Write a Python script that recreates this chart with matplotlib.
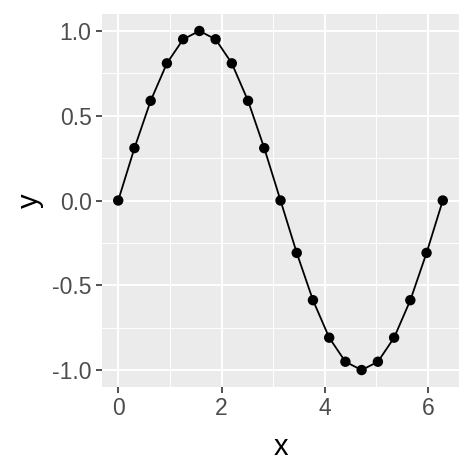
import matplotlib
matplotlib.use("Agg")
import matplotlib.pyplot as plt
from matplotlib.ticker import MultipleLocator

x = [0.000, 0.314, 0.628, 0.942, 1.257, 1.571, 1.885, 2.199, 2.513, 2.827, 3.142,
     3.456, 3.770, 4.084, 4.398, 4.712, 5.027, 5.341, 5.655, 5.969, 6.283]
y = [0.000, 0.309, 0.588, 0.809, 0.951, 1.000, 0.951, 0.809, 0.588, 0.309, 0.000,
     -0.309, -0.588, -0.809, -0.951, -1.000, -0.951, -0.809, -0.588, -0.309, 0.000]
xticks = [0, 2, 4, 6]
yticks = [-1.0, -0.5, 0.0, 0.5, 1.0]
ytick_labels = ["-1.0", "-0.5", "0.0", "0.5", "1.0"]

plt.rcParams['font.family'] = ['Liberation Sans', 'DejaVu Sans']
fig = plt.figure(figsize=(4.74, 4.74), dpi=100)
W = H = 474
ax = fig.add_axes([102 / W, (H - 387) / H, (459 - 102) / W, (387 - 14) / H])
ax.set_facecolor('#EBEBEB')
for s in ax.spines.values():
    s.set_visible(False)

xr = max(x) - min(x)
yr = max(y) - min(y)
ax.set_xlim(min(x) - 0.05 * xr, max(x) + 0.05 * xr)
ax.set_ylim(min(y) - 0.05 * yr, max(y) + 0.05 * yr)

ax.set_xticks(xticks)
ax.set_yticks(yticks)
ax.set_yticklabels(ytick_labels)
ax.xaxis.set_minor_locator(MultipleLocator(1))
ax.yaxis.set_minor_locator(MultipleLocator(0.25))
ax.grid(which='major', color='white', linewidth=1.4)
ax.grid(which='minor', color='white', linewidth=0.7)
ax.set_axisbelow(True)
ax.tick_params(which='major', length=4.5, width=1.2, color='#333333',
               labelcolor='#4D4D4D', labelsize=16.5, pad=3)
ax.tick_params(which='minor', length=0)

ax.plot(x, y, color='black', linewidth=1.3, zorder=3)
ax.scatter(x, y, s=56, color='black', zorder=4, edgecolors='none')

ax.set_xlabel('x', fontsize=21, labelpad=9)
ax.set_ylabel('y', fontsize=21, labelpad=6)

fig.savefig('out.png', dpi=100, facecolor='white')
